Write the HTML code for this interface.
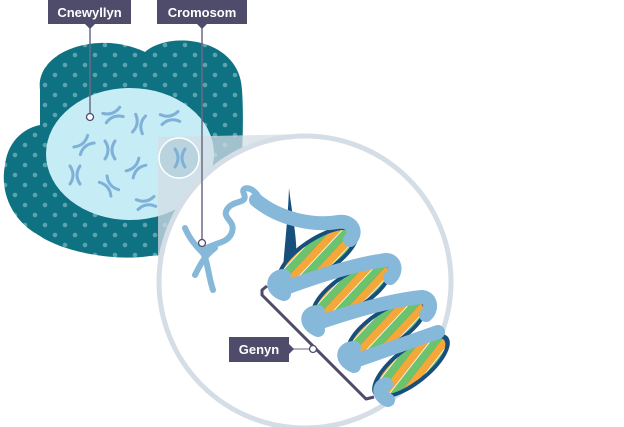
<!DOCTYPE html>
<html><head><meta charset="utf-8"><style>
html,body{margin:0;padding:0;background:#fff;}
svg{display:block;}
text{font-family:"Liberation Sans",sans-serif;}
</style></head><body>
<svg width="624" height="427" viewBox="0 0 624 427" xmlns="http://www.w3.org/2000/svg">
<defs>
<pattern id="dots" width="20" height="20" patternUnits="userSpaceOnUse">
<rect width="20" height="20" fill="#0e7282"/>
<circle cx="5" cy="5" r="2.3" fill="#5ba4ae"/>
<circle cx="15" cy="15" r="2.3" fill="#5ba4ae"/>
</pattern>
<symbol id="chr" viewBox="-10 -10 20 20" overflow="visible">
<path d="M-5,-9 Q1,0 -5,9 M5,-9 Q-1,0 5,9" stroke="#7fb0d8" stroke-width="3" fill="none" stroke-linecap="round"/>
</symbol>
<clipPath id="lc"><ellipse cx="0" cy="0" rx="42" ry="15"/></clipPath>
<g id="lens">
<ellipse cx="0" cy="0" rx="47" ry="19" fill="#174f7c"/>
<g clip-path="url(#lc)">
<g transform="rotate(-14)">
<rect x="-60" y="-24" width="120" height="8" fill="#f5a83a"/>
<rect x="-60" y="-16" width="120" height="8" fill="#6cc36e"/>
<rect x="-60" y="-8" width="120" height="8" fill="#f5a83a"/>
<rect x="-60" y="0" width="120" height="8" fill="#6cc36e"/>
<rect x="-60" y="8" width="120" height="8" fill="#f5a83a"/>
<rect x="-60" y="16" width="120" height="8" fill="#6cc36e"/>
<line x1="-60" y1="-16" x2="60" y2="-16" stroke="#fff" stroke-width="0.8"/>
<line x1="-60" y1="0" x2="60" y2="0" stroke="#fff" stroke-width="0.8"/>
<line x1="-60" y1="16" x2="60" y2="16" stroke="#fff" stroke-width="0.8"/>
</g>
</g>
</g>
</defs>

<!-- blob -->
<path d="M40 90 C35 50 100 30 145 52 C170 30 240 38 242 90 C245 130 240 200 235 250 L150 256 C110 262 60 250 40 236 C10 220 0 190 5 165 C8 140 25 128 40 125 Z" fill="url(#dots)"/>
<ellipse cx="130" cy="154" rx="84" ry="66" fill="#c6ecf6"/>
<use href="#chr" x="103" y="105" width="20" height="20" transform="rotate(70 113 115)"/>
<use href="#chr" x="129" y="114" width="20" height="20" transform="rotate(10 139 124)"/>
<use href="#chr" x="160" y="108" width="20" height="20" transform="rotate(80 170 118)"/>
<use href="#chr" x="74" y="135" width="20" height="20" transform="rotate(50 84 145)"/>
<use href="#chr" x="100" y="140" width="20" height="20" transform="rotate(0 110 150)"/>
<use href="#chr" x="126" y="158" width="20" height="20" transform="rotate(45 136 168)"/>
<use href="#chr" x="65" y="165" width="20" height="20" transform="rotate(0 75 175)"/>
<use href="#chr" x="99" y="176" width="20" height="20" transform="rotate(-40 109 186)"/>
<use href="#chr" x="136" y="193" width="20" height="20" transform="rotate(80 146 203)"/>

<!-- cone -->
<polygon points="158,137 310,134 310,300 158,300" fill="#d3dde6" opacity="0.75"/>
<circle cx="179" cy="158" r="20" fill="#b9d4df" stroke="#fff" stroke-width="1.5"/>
<use href="#chr" x="170" y="148" width="20" height="20" transform="rotate(0 180 158)"/>
<circle cx="305" cy="282" r="146" fill="#fff" stroke="#d5dde6" stroke-width="5"/>

<!-- chromosome + coil -->
<path d="M185 228 C190 240 198 248 203 253 C208 262 208 275 213 290" stroke="#86b8da" stroke-width="6" fill="none" stroke-linecap="round"/>
<path d="M195 275 C200 265 205 255 215 248" stroke="#86b8da" stroke-width="6" fill="none" stroke-linecap="round"/>
<path d="M203 250 C215 242 228 244 232 232 C236 220 220 218 228 208 C234 200 248 204 244 194 C240 186 252 186 258 196" stroke="#86b8da" stroke-width="6" fill="none" stroke-linecap="round"/>

<!-- spike -->
<path d="M289 188 C292 215 298 240 296 262 L282 282 C284 250 288 220 289 188 Z" fill="#174f7c"/>

<!-- lenses -->
<use href="#lens" transform="translate(318,256) rotate(-33)"/>
<use href="#lens" transform="translate(352,291) rotate(-33)"/>
<use href="#lens" transform="translate(387,328) rotate(-33)"/>
<use href="#lens" transform="translate(411,366) rotate(-38)"/>

<!-- bands -->
<g stroke="#86b8da" stroke-width="14" fill="none" stroke-linecap="round">
<path d="M256 200 C280 220 315 226 338 222 C352 220 358 232 350 240"/>
<path d="M284 294 C270 290 272 276 284 276"/>
<path d="M280 290 C315 277 355 264 386 260 C396 260 397 272 390 278"/>
<path d="M318 330 C304 324 306 312 318 312"/>
<path d="M315 324 C350 312 390 300 422 297 C432 298 432 310 426 315"/>
<path d="M354 366 C340 360 342 348 354 348"/>
<path d="M352 362 C380 352 410 342 438 332"/>
<path d="M388 400 C378 396 378 386 386 384"/>
</g>

<!-- bracket -->
<path d="M267 286 L262 290 L262 295 L366 399 L374 397" stroke="#4e4b6b" stroke-width="3" fill="none" stroke-linejoin="round"/>

<!-- labels -->
<line x1="90" y1="24" x2="90" y2="117" stroke="#6e6b85" stroke-width="1.5"/>
<circle cx="90" cy="117" r="3.5" fill="#fff" stroke="#4e4b6b" stroke-width="1.3"/>
<rect x="48" y="0" width="83" height="24" fill="#4e4b6b"/>
<polygon points="85,24 95,24 90,29" fill="#4e4b6b"/>
<text x="89.5" y="17" font-size="13" font-weight="bold" fill="#fff" text-anchor="middle">Cnewyllyn</text>

<line x1="202" y1="24" x2="202" y2="243" stroke="#6e6b85" stroke-width="1.5"/>
<circle cx="202" cy="243" r="3.5" fill="#fff" stroke="#4e4b6b" stroke-width="1.3"/>
<rect x="157" y="0" width="90" height="24" fill="#4e4b6b"/>
<polygon points="197,24 207,24 202,29" fill="#4e4b6b"/>
<text x="202" y="17" font-size="13" font-weight="bold" fill="#fff" text-anchor="middle">Cromosom</text>

<line x1="289" y1="349" x2="313" y2="349" stroke="#9a98ad" stroke-width="1.5"/>
<circle cx="313" cy="349" r="3.5" fill="#fff" stroke="#4e4b6b" stroke-width="1.3"/>
<rect x="229" y="337" width="60" height="25" fill="#4e4b6b"/>
<polygon points="289,344 294,349 289,354" fill="#4e4b6b"/>
<text x="259" y="354" font-size="13" font-weight="bold" fill="#fff" text-anchor="middle">Genyn</text>
</svg>
</body></html>
